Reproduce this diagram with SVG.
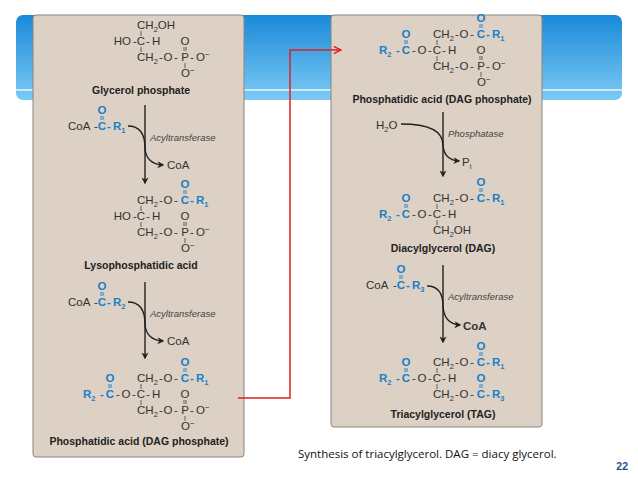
<svg xmlns="http://www.w3.org/2000/svg" width="638" height="478" viewBox="0 0 638 478">
<style>
text{font-family:"Liberation Sans",Arial,sans-serif;font-size:11.5px;fill:#333}
.m{text-anchor:middle}
.e{text-anchor:end}
.b{fill:#1a7fc8;font-weight:bold}
.lb{font-weight:bold;text-anchor:middle;font-size:10.5px;fill:#222}
.it{font-style:italic;font-size:9.5px;fill:#444}
.bd{stroke:#444;stroke-width:0.8}
.bb{stroke:#1a7fc8;stroke-width:0.9}
.arr{stroke:#222;stroke-width:1.4;fill:none}
.panel{fill:#dcd1c4;stroke:#8a8580;stroke-width:1}
</style>
<defs>
<linearGradient id="bg" x1="0" y1="0" x2="0" y2="1">
<stop offset="0" stop-color="#1a8ad8"/><stop offset="1" stop-color="#7ccaf5"/>
</linearGradient>
<marker id="ah" viewBox="0 0 10 10" refX="8" refY="5" markerWidth="7" markerHeight="7" orient="auto" markerUnits="userSpaceOnUse"><path d="M0,0 L10,5 L0,10 L3,5 Z" fill="#222"/></marker>
<marker id="rh" viewBox="0 0 10 10" refX="9" refY="5" markerWidth="9" markerHeight="9" orient="auto" markerUnits="userSpaceOnUse"><path d="M1,1 L9,5 L1,9" fill="none" stroke="#e02020" stroke-width="1.6"/></marker>
<g id="pa">
<text class="b m" x="44" y="-16">O</text><line class="bb" x1="43" y1="-14" x2="43" y2="-10"/><line class="bb" x1="45" y1="-14" x2="45" y2="-10"/>
<text x="-4" y="0">CH<tspan font-size="7.5" dy="3">2</tspan></text><text class="m" x="20" y="0">-</text><text class="m" x="27" y="0">O</text><text class="m" x="35" y="0">-</text><text class="b m" x="44" y="0">C</text><text class="b m" x="51" y="0">-</text><text class="b" x="55" y="0">R<tspan font-size="7.5" dy="3">1</tspan></text>
<line class="bd" x1="0" y1="2" x2="0" y2="7"/><line class="bd" x1="0" y1="18" x2="0" y2="23"/>
<text class="b m" x="-31" y="0">O</text><line class="bb" x1="-32" y1="2" x2="-32" y2="6"/><line class="bb" x1="-30" y1="2" x2="-30" y2="6"/>
<text class="b" x="-58" y="16">R<tspan font-size="7.5" dy="3">2</tspan></text><text class="b m" x="-39" y="16">-</text><text class="b m" x="-31" y="16">C</text><text class="m" x="-23" y="16">-</text><text class="m" x="-15" y="16">O</text><text class="m" x="-7" y="16">-</text><text class="m" x="0" y="16">C</text><text class="m" x="7" y="16">-</text><text x="11" y="16">H</text>
</g>
<g id="ph">
<text class="m" x="44" y="16">O</text><line class="bd" x1="43" y1="18" x2="43" y2="22"/><line class="bd" x1="45" y1="18" x2="45" y2="22"/>
<text x="-4" y="32">CH<tspan font-size="7.5" dy="3">2</tspan></text><text class="m" x="20" y="32">-</text><text class="m" x="27" y="32">O</text><text class="m" x="35" y="32">-</text><text class="m" x="44" y="32">P</text><text class="m" x="51" y="32">-</text><text x="55" y="32">O<tspan font-size="8" dy="-4">−</tspan></text>
<line class="bd" x1="44" y1="34" x2="44" y2="39"/><text x="40" y="48">O<tspan font-size="8" dy="-4">−</tspan></text>
</g>
</defs>
<rect x="16" y="15" width="606" height="85" rx="7" fill="url(#bg)"/>
<line x1="16" y1="90" x2="622" y2="90" stroke="#e8f6ff" stroke-width="1.5"/>
<rect x="33" y="15" width="211" height="442" rx="3" class="panel"/>
<rect x="331" y="15" width="211" height="412" rx="3" class="panel"/>

<g id="glycerol-phosphate" transform="translate(141,29)">
<text x="-4" y="0">CH<tspan font-size="7.5" dy="3">2</tspan><tspan dy="-3">OH</tspan></text>
<line class="bd" x1="0" y1="2" x2="0" y2="7"/><line class="bd" x1="0" y1="18" x2="0" y2="23"/>
<text class="e" x="-10" y="16">HO</text><text class="m" x="-6" y="16">-</text><text class="m" x="0" y="16">C</text><text class="m" x="7" y="16">-</text><text x="11" y="16">H</text>
<use href="#ph"/>
<text class="lb" x="0" y="65">Glycerol phosphate</text>
</g>

<g id="step1">
<text x="68" y="130">CoA</text><text class="m" x="96" y="130">-</text><text class="b m" x="102" y="130">C</text><text class="b m" x="109" y="130">-</text><text class="b" x="113" y="130">R<tspan font-size="7.5" dy="3">1</tspan></text>
<text class="b m" x="102" y="114">O</text><line class="bb" x1="101" y1="116" x2="101" y2="120"/><line class="bb" x1="103" y1="120" x2="103" y2="116"/>
<text class="it" x="150" y="141">Acyltransferase</text>
<text x="167" y="169">CoA</text>
</g>

<g id="lysophosphatidic-acid" transform="translate(141,204)">
<text class="b m" x="44" y="-16">O</text><line class="bb" x1="43" y1="-14" x2="43" y2="-10"/><line class="bb" x1="45" y1="-14" x2="45" y2="-10"/>
<text x="-4" y="0">CH<tspan font-size="7.5" dy="3">2</tspan></text><text class="m" x="20" y="0">-</text><text class="m" x="27" y="0">O</text><text class="m" x="35" y="0">-</text><text class="b m" x="44" y="0">C</text><text class="b m" x="51" y="0">-</text><text class="b" x="55" y="0">R<tspan font-size="7.5" dy="3">1</tspan></text>
<line class="bd" x1="0" y1="2" x2="0" y2="7"/><line class="bd" x1="0" y1="18" x2="0" y2="23"/>
<text class="e" x="-10" y="16">HO</text><text class="m" x="-6" y="16">-</text><text class="m" x="0" y="16">C</text><text class="m" x="7" y="16">-</text><text x="11" y="16">H</text>
<use href="#ph"/>
<text class="lb" x="0" y="65">Lysophosphatidic acid</text>
</g>

<g id="step2">
<text x="68" y="306">CoA</text><text class="m" x="96" y="306">-</text><text class="b m" x="102" y="306">C</text><text class="b m" x="109" y="306">-</text><text class="b" x="113" y="306">R<tspan font-size="7.5" dy="3">2</tspan></text>
<text class="b m" x="102" y="290">O</text><line class="bb" x1="101" y1="292" x2="101" y2="296"/><line class="bb" x1="103" y1="296" x2="103" y2="292"/>
<text class="it" x="150" y="317">Acyltransferase</text>
<text x="167" y="345">CoA</text>
</g>

<g id="phosphatidic-acid-left" transform="translate(141,382)">
<use href="#pa"/><use href="#ph"/>
<text class="lb" x="-2" y="63">Phosphatidic acid (DAG phosphate)</text>
</g>

<g id="phosphatidic-acid-right" transform="translate(437,38)">
<use href="#pa"/><use href="#ph"/>
<text class="lb" x="5" y="65">Phosphatidic acid (DAG phosphate)</text>
</g>

<g id="step3">
<text x="376" y="129">H<tspan font-size="7.5" dy="3">2</tspan><tspan dy="-3">O</tspan></text>
<text class="it" x="448" y="137">Phosphatase</text>
<text x="462" y="166">P<tspan font-size="7.5" dy="3">i</tspan></text>
</g>

<g id="dag" transform="translate(437,202)">
<use href="#pa"/>
<text x="-4" y="32">CH<tspan font-size="7.5" dy="3">2</tspan><tspan dy="-3">OH</tspan></text>
<text class="lb" x="6" y="50">Diacylglycerol (DAG)</text>
</g>

<g id="step4">
<text x="366" y="289">CoA</text><text class="m" x="395" y="289">-</text><text class="b m" x="401" y="289">C</text><text class="b m" x="408" y="289">-</text><text class="b" x="412" y="289">R<tspan font-size="7.5" dy="3">3</tspan></text>
<text class="b m" x="401" y="273">O</text><line class="bb" x1="400" y1="275" x2="400" y2="279"/><line class="bb" x1="402" y1="279" x2="402" y2="275"/>
<text class="it" x="448" y="300">Acyltransferase</text>
<text x="463" y="330" font-weight="bold">CoA</text>
</g>

<g id="tag" transform="translate(437,366)">
<use href="#pa"/>
<text class="b m" x="44" y="16">O</text><line class="bb" x1="43" y1="18" x2="43" y2="22"/><line class="bb" x1="45" y1="18" x2="45" y2="22"/>
<text x="-4" y="32">CH<tspan font-size="7.5" dy="3">2</tspan></text><text class="m" x="20" y="32">-</text><text class="m" x="27" y="32">O</text><text class="m" x="35" y="32">-</text><text class="b m" x="44" y="32">C</text><text class="b m" x="51" y="32">-</text><text class="b" x="55" y="32">R<tspan font-size="7.5" dy="3">3</tspan></text>
<text class="lb" x="6" y="52">Triacylglycerol (TAG)</text>
</g>

<g id="connectors">
<line class="arr" x1="145" y1="105" x2="145" y2="183" marker-end="url(#ah)"/>
<path class="arr" d="M128,126 Q145,126 145,148 Q146,164 163,165" marker-end="url(#ah)"/>
<line class="arr" x1="145" y1="282" x2="145" y2="358" marker-end="url(#ah)"/>
<path class="arr" d="M128,302 Q145,302 145,324 Q146,340 163,341" marker-end="url(#ah)"/>
<line class="arr" x1="443" y1="112" x2="443" y2="176" marker-end="url(#ah)"/>
<path class="arr" d="M401,124 Q443,124 443,145 Q444,160 459,161" marker-end="url(#ah)"/>
<line class="arr" x1="443" y1="265" x2="443" y2="342" marker-end="url(#ah)"/>
<path class="arr" d="M427,286 Q443,286 443,306 Q444,324 460,325" marker-end="url(#ah)"/>
<path d="M238,398 H290 V50 H341" fill="none" stroke="#e02020" stroke-width="1.5" marker-end="url(#rh)"/>
</g>
<text x="298" y="458" style="font-family:'Open Sans','Liberation Sans',sans-serif;font-size:11.5px;fill:#111">Synthesis of triacylglycerol. DAG = diacy glycerol.</text>
<text x="628" y="470" style="text-anchor:end;font-weight:bold;font-size:10.5px;fill:#1f4f8a">22</text>
</svg>
